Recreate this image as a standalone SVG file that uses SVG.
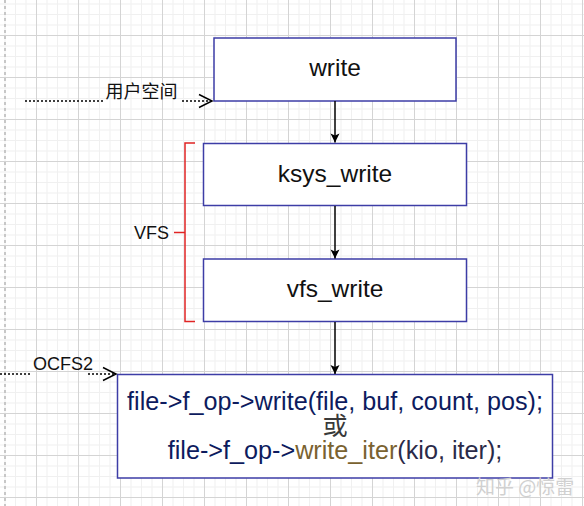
<svg xmlns="http://www.w3.org/2000/svg" width="584" height="506" viewBox="0 0 584 506">
  <style>
    .box { fill: #ffffff; stroke: #3d3da6; stroke-width: 1.5; }
    .title { font-family: "Liberation Sans", Arial, sans-serif; font-size: 24.5px; fill: #111111; text-anchor: middle; }
    .lbl { font-family: "Liberation Sans", "Noto Sans CJK SC", sans-serif; font-size: 18px; fill: #111111; }
    .code { font-family: "Liberation Sans", "Noto Sans CJK SC", sans-serif; font-size: 25.2px; text-anchor: middle; }
    .solid { stroke: #000000; stroke-width: 1.5; fill: none; }
    .dotted { stroke: #000000; stroke-width: 1.5; fill: none; stroke-dasharray: 2 2; }
  </style>
  <defs>
    <pattern id="grid" patternUnits="userSpaceOnUse" x="36" y="35" width="42" height="42">
      <rect x="10.5" y="0" width="1" height="42" fill="#f0f0f0"/>
      <rect x="21" y="0" width="1" height="42" fill="#f0f0f0"/>
      <rect x="31.5" y="0" width="1" height="42" fill="#f0f0f0"/>
      <rect x="0" y="10.5" width="42" height="1" fill="#f0f0f0"/>
      <rect x="0" y="21" width="42" height="1" fill="#f0f0f0"/>
      <rect x="0" y="31.5" width="42" height="1" fill="#f0f0f0"/>
      <rect x="0" y="0" width="1" height="42" fill="#d4d4d4"/>
      <rect x="0" y="0" width="42" height="1" fill="#d4d4d4"/>
    </pattern>
    <marker id="filled" markerUnits="userSpaceOnUse" markerWidth="12" markerHeight="12" viewBox="0 0 12 12" refX="10" refY="6" orient="auto">
      <path d="M1,1.5 L10,6 L1,10.5 L3,6 Z" fill="#000000"/>
    </marker>
    <marker id="open" markerUnits="userSpaceOnUse" markerWidth="16" markerHeight="16" viewBox="0 0 16 16" refX="14" refY="8" orient="auto">
      <path d="M1,1.5 L14,8 L1,14.5" fill="none" stroke="#000000" stroke-width="1.5"/>
    </marker>
  </defs>

  <rect x="0" y="0" width="584" height="506" fill="#ffffff"/>
  <rect x="0" y="0" width="584" height="506" fill="url(#grid)"/>
  <line x1="5" y1="0" x2="5" y2="506" stroke="#b8b8b8" stroke-width="1.5" stroke-dasharray="3 3"/>

  <g id="node-write">
    <rect class="box" x="214" y="38" width="242" height="63"/>
    <text class="title" x="335" y="76">write</text>
  </g>
  <g id="node-ksys_write">
    <rect class="box" x="203.5" y="143.5" width="263" height="62"/>
    <text class="title" x="335" y="182">ksys_write</text>
  </g>
  <g id="node-vfs_write">
    <rect class="box" x="203.5" y="259" width="263" height="62.5"/>
    <text class="title" x="335" y="297">vfs_write</text>
  </g>
  <g id="node-fop">
    <rect class="box" x="117.5" y="374.5" width="435" height="103.5"/>
    <text class="code" x="335" y="410"><tspan x="335" y="410" fill="#0d1b5e">file-&gt;f_op-&gt;write(file, buf, count, pos);</tspan><tspan x="335" y="434.5" fill="#3a3a3a">或</tspan><tspan x="335" y="459" fill="#0d1b5e">file-&gt;f_op-&gt;</tspan><tspan fill="#7a6230">write_iter</tspan><tspan fill="#2a2a48">(kio, iter);</tspan></text>
  </g>

  <g id="vfs-bracket">
    <path d="M195,143 H185 V321.5 H195 M185,232.5 H174" fill="none" stroke="#e02424" stroke-width="1.5"/>
    <text class="lbl" x="134" y="238.5" font-size="17.5">VFS</text>
  </g>

  <g id="label-user">
    <text class="lbl" x="105.5" y="98" font-size="18.5">用户空间</text>
  </g>
  <g id="label-ocfs2">
    <text class="lbl" x="33" y="369.5" font-size="18.5">OCFS2</text>
  </g>

  <g id="connectors">
    <line class="solid" x1="335" y1="101" x2="335" y2="142.5" marker-end="url(#filled)"/>
    <line class="solid" x1="335" y1="206" x2="335" y2="258.5" marker-end="url(#filled)"/>
    <line class="solid" x1="335" y1="322" x2="335" y2="374" marker-end="url(#filled)"/>
    <path class="dotted" d="M25,101 H104 M182,101 H212" marker-end="url(#open)"/>
    <path class="dotted" d="M0,374 H32 M88,374 H116" marker-end="url(#open)"/>
  </g>

  <g id="watermark">
    <text x="476" y="494" font-family="'Noto Sans CJK SC', sans-serif" font-size="19" fill="#d0d0d0">知乎 @惊雷</text>
  </g>
</svg>
